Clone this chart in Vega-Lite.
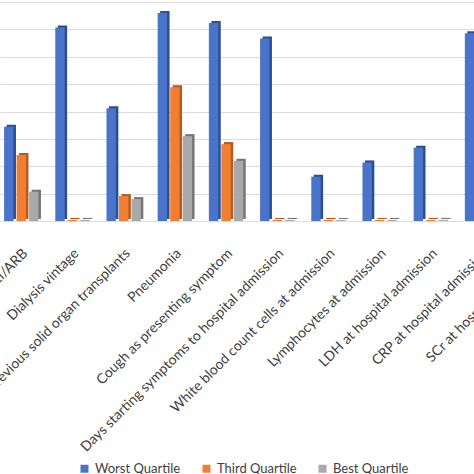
{
  "$schema": "https://vega.github.io/schema/vega-lite/v6.json",
  "width": 557,
  "height": 219,
  "autosize": {"type": "none"},
  "padding": {"left": 0, "top": 2, "right": 0, "bottom": 253},
  "background": "white",
  "config": {"view": {"stroke": null}, "font": "Lato"},
  "data": {
    "values": [
      {"Factor": "ACEi/ARB", "Quartile": "Worst Quartile", "Value": 34.4},
      {"Factor": "ACEi/ARB", "Quartile": "Third Quartile", "Value": 24.1},
      {"Factor": "ACEi/ARB", "Quartile": "Best Quartile", "Value": 10.7},
      {"Factor": "Dialysis vintage", "Quartile": "Worst Quartile", "Value": 70.7},
      {"Factor": "Dialysis vintage", "Quartile": "Third Quartile", "Value": 0.4},
      {"Factor": "Dialysis vintage", "Quartile": "Best Quartile", "Value": 0.4},
      {"Factor": "Previous solid organ transplants", "Quartile": "Worst Quartile", "Value": 41.2},
      {"Factor": "Previous solid organ transplants", "Quartile": "Third Quartile", "Value": 9.1},
      {"Factor": "Previous solid organ transplants", "Quartile": "Best Quartile", "Value": 8.0},
      {"Factor": "Pneumonia", "Quartile": "Worst Quartile", "Value": 76.0},
      {"Factor": "Pneumonia", "Quartile": "Third Quartile", "Value": 48.9},
      {"Factor": "Pneumonia", "Quartile": "Best Quartile", "Value": 31.0},
      {"Factor": "Cough as presenting symptom", "Quartile": "Worst Quartile", "Value": 72.3},
      {"Factor": "Cough as presenting symptom", "Quartile": "Third Quartile", "Value": 28.1},
      {"Factor": "Cough as presenting symptom", "Quartile": "Best Quartile", "Value": 22.0},
      {"Factor": "Days starting symptoms to hospital admission", "Quartile": "Worst Quartile", "Value": 66.7},
      {"Factor": "Days starting symptoms to hospital admission", "Quartile": "Third Quartile", "Value": 0.4},
      {"Factor": "Days starting symptoms to hospital admission", "Quartile": "Best Quartile", "Value": 0.4},
      {"Factor": "White blood count cells at admission", "Quartile": "Worst Quartile", "Value": 16.2},
      {"Factor": "White blood count cells at admission", "Quartile": "Third Quartile", "Value": 0.4},
      {"Factor": "White blood count cells at admission", "Quartile": "Best Quartile", "Value": 0.4},
      {"Factor": "Lymphocytes at admission", "Quartile": "Worst Quartile", "Value": 21.4},
      {"Factor": "Lymphocytes at admission", "Quartile": "Third Quartile", "Value": 0.4},
      {"Factor": "Lymphocytes at admission", "Quartile": "Best Quartile", "Value": 0.4},
      {"Factor": "LDH at hospital admission", "Quartile": "Worst Quartile", "Value": 26.8},
      {"Factor": "LDH at hospital admission", "Quartile": "Third Quartile", "Value": 0.4},
      {"Factor": "LDH at hospital admission", "Quartile": "Best Quartile", "Value": 0.4},
      {"Factor": "CRP at hospital admission", "Quartile": "Worst Quartile", "Value": 68.6},
      {"Factor": "CRP at hospital admission", "Quartile": "Third Quartile", "Value": 0.4},
      {"Factor": "CRP at hospital admission", "Quartile": "Best Quartile", "Value": 0.4},
      {"Factor": "SCr at hospital admission", "Quartile": "Worst Quartile", "Value": 50.0},
      {"Factor": "SCr at hospital admission", "Quartile": "Third Quartile", "Value": 0.4},
      {"Factor": "SCr at hospital admission", "Quartile": "Best Quartile", "Value": 0.4}
    ]
  },
  "encoding": {
    "x": {
      "field": "Factor",
      "type": "nominal",
      "sort": null,
      "scale": {"paddingInner": 0.28, "paddingOuter": 0.08},
      "axis": {
        "title": null,
        "labelAngle": -45,
        "labelAlign": "right",
        "labelBaseline": "middle",
        "labelPadding": 30,
        "labelOffset": 3,
        "labelFontSize": 14,
        "labelColor": "#404040",
        "labelLimit": 0,
        "labelOverlap": false,
        "domain": false,
        "ticks": false,
        "grid": false
      }
    },
    "y": {
      "field": "Value",
      "type": "quantitative",
      "scale": {"domain": [0, 80], "nice": false},
      "axis": {
        "title": null,
        "labels": false,
        "ticks": false,
        "domain": false,
        "values": [0, 10, 20, 30, 40, 50, 60, 70, 80],
        "gridColor": "#dcdcdc",
        "gridWidth": 1
      }
    }
  },
  "layer": [
    {
      "mark": {"type": "bar", "yOffset": -2},
      "encoding": {
        "xOffset": {
          "field": "Quartile",
          "type": "nominal",
          "sort": ["Worst Quartile", "Third Quartile", "Best Quartile"],
          "scale": {"paddingInner": 0.25, "paddingOuter": 0.1, "align": 1}
        },
        "fill": {
          "field": "Quartile",
          "type": "nominal",
          "sort": ["Worst Quartile", "Third Quartile", "Best Quartile"],
          "scale": {"range": ["#2B4F91", "#B85A1C", "#767676"]},
          "legend": null
        }
      }
    },
    {
      "mark": {"type": "bar"},
      "encoding": {
        "xOffset": {
          "field": "Quartile",
          "type": "nominal",
          "sort": ["Worst Quartile", "Third Quartile", "Best Quartile"],
          "scale": {"paddingInner": 0.25, "paddingOuter": 0.1, "align": 0}
        },
        "color": {
          "field": "Quartile",
          "type": "nominal",
          "sort": ["Worst Quartile", "Third Quartile", "Best Quartile"],
          "scale": {"range": ["#4A74C9", "#F07F34", "#A9A9A9"]},
          "legend": {
            "title": null,
            "orient": "none",
            "direction": "horizontal",
            "legendX": 78,
            "legendY": 460,
            "symbolType": "square",
            "symbolSize": 64,
            "symbolStrokeWidth": 0,
            "labelFontSize": 13,
            "labelColor": "#404040",
            "labelOffset": 4,
            "columnPadding": 19
          }
        }
      }
    }
  ],
  "resolve": {"scale": {"xOffset": "independent"}}
}
